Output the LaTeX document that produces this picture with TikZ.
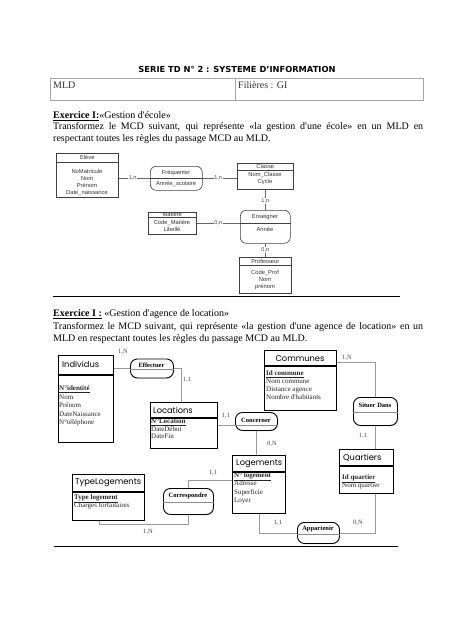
\documentclass[tikz,border=0pt]{standalone}
\usepackage{fontspec}
\setmainfont{Liberation Serif}[Ligatures=TeXOff]
\newfontfamily\arialf{Liberation Sans}
\newfontfamily\titlef{DejaVu Sans}
\newfontfamily\gothf{Poppins}
\usetikzlibrary{calc,shadows}
\tikzset{
  ent1/.style={draw=black!75, line width=0.6pt, anchor=north west, inner sep=0, fill=white},
  rel1/.style={ent1, rounded corners=6pt},
  sep1/.style={draw=black!75, line width=0.5pt},
  t1/.style={font=\arialf\fontsize{5.8}{6}\selectfont, inner sep=0, text=black!80},
  conn1/.style={draw=black!60, line width=0.6pt},
  lab1/.style={font=\arialf\fontsize{5.5}{6}\selectfont, fill=white, inner sep=0.6pt, text=black!75},
  ent2/.style={draw=black, line width=1pt, anchor=north west, inner sep=0},
  rel2/.style={draw=black, line width=0.9pt, rounded corners=7pt, anchor=north west, inner sep=0, fill=white,
     drop shadow={shadow xshift=0.8pt, shadow yshift=-0.8pt, fill=black!25}},
  sep2/.style={draw=black, line width=1.1pt},
  rsep/.style={draw=black!45, line width=0.5pt},
  etitle/.style={font=\gothf\fontsize{8.3}{9}\selectfont, inner sep=0},
  attr/.style={font=\fontsize{7}{8}\selectfont, inner sep=0, anchor=base west, text=black!85},
  rname/.style={font=\bfseries\fontsize{6.5}{7}\selectfont, inner sep=0},
  conn2/.style={draw=black!40, line width=0.7pt},
  lab2/.style={font=\fontsize{6.5}{7}\selectfont, inner sep=0, text=black!70},
  txt/.style={font=\fontsize{10}{12}\selectfont, inner sep=0, anchor=west},
}
\begin{document}
\begin{tikzpicture}[x=1pt,y=-1pt]
\useasboundingbox[fill=white] (0,0) rectangle (453,640);

% ---------- header ----------
\node[font=\titlef\bfseries\fontsize{8.3}{10}\selectfont, inner sep=0] (title) at (237,69) {SERIE TD N° 2 : SYSTEME D’INFORMATION};
\draw[black!35, line width=0.6pt] (50,78) rectangle (423,100);
\draw[black!35, line width=0.6pt] (235,78) -- (235,100);
\node[txt, text=black!80] (mld) at (53,85) {MLD};
\node[txt, text=black!80] (fil) at (238,85) {Filières : GI};

\node[txt] (ex1) at (53,116) {\underline{\textbf{Exercice I:}}«Gestion d'école»};
\node[txt] (ex1a) at (53,127) {\makebox[370pt][s]{Transformez le MCD suivant, qui représente «la gestion d'une école» en un MLD en}};
\node[txt] (ex1b) at (53,139) {respectant toutes les règles du passage MCD au MLD.};

% ---------- diagram 1 ----------
\node[ent1, minimum width=62pt, minimum height=44pt] (eleve) at (56,153) {};
\draw[sep1] ($(eleve.north west)+(0,9)$) -- ($(eleve.north east)+(0,9)$);
\node[t1] at ($(eleve.north)+(0,4.5)$) {Elève};
\foreach \t [count=\i] in {NoMatricule,Nom,Prénom,Date\_naissance}
  \node[t1, anchor=base] at (87,{173+(\i-1)*7}) {\t};

\node[rel1, minimum width=52pt, minimum height=24pt] (freq) at (150,166) {};
\draw[sep1] (freq.west) -- (freq.east);
\node[t1] at (176,172.5) {Fréquenter};
\node[t1] at (176,183.5) {Année\_scolaire};

\node[ent1, minimum width=56pt, minimum height=26pt] (classe) at (237,163) {};
\draw[sep1] ($(classe.north west)+(0,7)$) -- ($(classe.north east)+(0,7)$);
\node[t1] at ($(classe.north)+(0,3.5)$) {Classe};
\node[t1] at (265,174.5) {Nom\_Classe};
\node[t1] at (265,181.5) {Cycle};

\node[ent1, minimum width=48pt, minimum height=22pt] (mat) at (148,212) {};
\draw[sep1] ($(mat.north west)+(0,5.5)$) -- ($(mat.north east)+(0,5.5)$);
\node[t1] at ($(mat.north)+(0,2.8)$) {Matière};
\node[t1] at (172,223) {Code\_Matière};
\node[t1] at (172,229.5) {Libellé};

\node[rel1, minimum width=50pt, minimum height=33pt] (ens) at (240,210) {};
\draw[sep1] (ens.west |- mat.east) -- (ens.east |- mat.east);
\node[t1] at (265,217) {Enseigner};
\node[t1] at (265,229.5) {Année};

\node[ent1, minimum width=52pt, minimum height=36pt] (prof) at (239,257) {};
\draw[sep1] ($(prof.north west)+(0,8.5)$) -- ($(prof.north east)+(0,8.5)$);
\node[t1] at ($(prof.north)+(0,4.3)$) {Professeur};
\node[t1] at (265,273) {Code\_Prof};
\node[t1] at (265,280) {Nom};
\node[t1] at (265,287) {prénom};

\draw[conn1] (eleve.east |- freq.west) -- node[lab1, pos=0.45] {1,n} (freq.west);
\draw[conn1] (freq.east) -- node[lab1, pos=0.45] {1,n} (classe.west |- freq.east);
\draw[conn1] (mat.east) -- node[lab1, pos=0.5] {0,n} (ens.west |- mat.east);
\draw[conn1] (classe.south) -- node[lab1, pos=0.55] {1,n} (ens.north);
\draw[conn1] (ens.south) -- node[lab1, pos=0.45] {0,n} (prof.north);

\draw[line width=1pt] (53,296) -- (400,296);

% ---------- text 2 ----------
\node[txt] (ex2) at (53,314) {\underline{\textbf{Exercice I :}} «Gestion d'agence de location»};
\node[txt] (ex2a) at (53,327.5) {\makebox[370pt][s]{Transformez le MCD suivant, qui représente «la gestion d'une agence de location» en un}};
\node[txt] (ex2b) at (53,339.5) {MLD en respectant toutes les règles du passage MCD au MLD.};

% ---------- diagram 2 ----------
% Individus
\node[ent2, minimum width=55pt, minimum height=87pt] (ind) at (58,355) {};
\draw[sep2] ($(ind.north west)+(0,20)$) -- ($(ind.north east)+(0,20)$);
\node[etitle, anchor=west] at (62,364) {Individus};
\foreach \t [count=\i] in {{\underline{\textbf{N°identité}}},Nom,Prénom,DateNaissance,N°téléphone}
  \node[attr] at (59,{390.5+(\i-1)*8.5}) {\t};

% Effectuer
\node[rel2, minimum width=43pt, minimum height=19pt] (eff) at (130,358.5) {};
\draw[rsep] ($(eff.north west)+(0,11)$) -- ($(eff.north east)+(0,11)$);
\node[rname] at (151.5,365) {Effectuer};

% Locations
\node[ent2, minimum width=67pt, minimum height=46pt] (loc) at (150,402) {};
\draw[sep2] ($(loc.north west)+(0,16)$) -- ($(loc.north east)+(0,16)$);
\node[etitle, anchor=west] at (153,410.5) {Locations};
\foreach \t [count=\i] in {{\underline{\textbf{N°Location}}},DateDébut,DateFin}
  \node[attr] at (151,{423.5+(\i-1)*7.6}) {\t};

% Communes
\node[ent2, minimum width=72pt, minimum height=60pt] (com) at (264,350) {};
\draw[sep2] ($(com.north west)+(0,16)$) -- ($(com.north east)+(0,16)$);
\node[etitle] at (300,358.5) {Communes};
\foreach \t [count=\i] in {{\underline{\textbf{Id commune}}},Nom commune,Distance agence,Nombre d'habitants}
  \node[attr] at (266,{375.5+(\i-1)*8}) {\t};

% Concerner
\node[rel2, minimum width=42pt, minimum height=18pt] (conc) at (235,412) {};
\draw[rsep] ($(conc.north west)+(0,13)$) -- ($(conc.north east)+(0,13)$);
\node[rname] at (256,420.5) {Concerner};

% Situer Dans
\node[rel2, minimum width=44pt, minimum height=28pt] (sit) at (353,397) {};
\draw[rsep] ($(sit.north west)+(0,15)$) -- ($(sit.north east)+(0,15)$);
\node[rname] at (375,405) {Situer Dans};

% Logements
\node[ent2, minimum width=53pt, minimum height=58pt] (log) at (232,455) {};
\draw[sep2] ($(log.north west)+(0,17)$) -- ($(log.north east)+(0,17)$);
\node[etitle, anchor=west] at (236,464) {Logements};
\foreach \t [count=\i] in {{\underline{\textbf{N° logement}}},Adresse,Superficie,Loyer}
  \node[attr] at (234,{477.5+(\i-1)*8.4}) {\t};

% Quartiers
\node[ent2, minimum width=54pt, minimum height=44pt] (quart) at (339,449) {};
\draw[sep2] ($(quart.north west)+(0,17)$) -- ($(quart.north east)+(0,17)$);
\node[etitle, anchor=west] at (343,458) {Quartiers};
\foreach \t [count=\i] in {{\underline{\textbf{Id quartier}}},Nom quartier}
  \node[attr] at (342,{479.5+(\i-1)*8}) {\t};

% TypeLogements
\node[ent2, minimum width=72pt, minimum height=46pt] (typ) at (72,474) {};
\draw[sep2] ($(typ.north west)+(0,18)$) -- ($(typ.north east)+(0,18)$);
\node[etitle, anchor=west] at (75,483) {TypeLogements};
\foreach \t [count=\i] in {{\underline{\textbf{Type logement}}},Charges forfaitaires}
  \node[attr] at (74,{499.5+(\i-1)*8}) {\t};

% Correspondre
\node[rel2, minimum width=50pt, minimum height=26pt] (corr) at (163,488) {};
\draw[rsep] ($(corr.north west)+(0,14)$) -- ($(corr.north east)+(0,14)$);
\node[rname] at (188,496) {Correspondre};

% Appartenir
\node[rel2, minimum width=42pt, minimum height=21pt] (app) at (297,522) {};
\draw[rsep] ($(app.north west)+(0,12)$) -- ($(app.north east)+(0,12)$);
\node[rname] at (318,528.5) {Appartenir};

% connectors
\draw[conn2] (eff.west -| ind.east) -- (eff.west);
\draw[conn2] (eff.east) -| ([xshift=-2.5pt]loc.north);
\draw[conn2] (loc.east) -- (loc.east -| conc.west);
\draw[conn2] (conc.south) -- (conc.south |- log.north);
\coordinate (c1) at ($(com.north east)+(0,12)$);
\draw[conn2] (c1) -| (sit.north);
\draw[conn2] (sit.south) -- (sit.south |- quart.north);
\draw[conn2] (log.south) |- (app.west);
\draw[conn2] (app.east) -| (sit.south |- quart.south);
\draw[conn2] ([xshift=-9pt]typ.south) |- ([yshift=-9pt]corr.south) -- (corr.south);
\draw[conn2] (corr.north) |- ([yshift=4pt]log.west);

\node[lab2] at (123,352) {1,N};
\node[lab2] at (187,380) {1,1};
\node[lab2] at (226,416) {1,1};
\node[lab2] at (272,444) {0,N};
\node[lab2] at (347,357.5) {1,N};
\node[lab2] at (363,436) {1,1};
\node[lab2] at (213,473) {1,1};
\node[lab2] at (148,532) {1,N};
\node[lab2] at (278,523) {1,1};
\node[lab2] at (358,523) {0,N};

\draw[line width=1pt] (54,546) -- (398,546);
\end{tikzpicture}
\end{document}
